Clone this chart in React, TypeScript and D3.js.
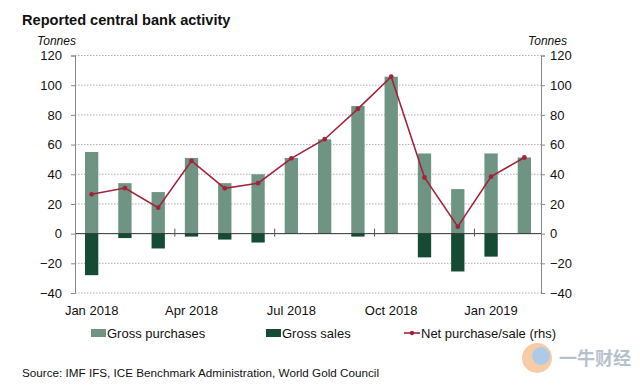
import React, { useEffect, useRef } from 'react';
import * as d3 from 'd3';

// Monthly central bank activity, tonnes
const months = [
  'Jan 2018', 'Feb 2018', 'Mar 2018', 'Apr 2018', 'May 2018', 'Jun 2018', 'Jul 2018',
  'Aug 2018', 'Sep 2018', 'Oct 2018', 'Nov 2018', 'Dec 2018', 'Jan 2019', 'Feb 2019',
];
const grossPurchases = [55, 34, 28, 51, 34, 40, 51, 63.5, 86, 105.7, 54, 30, 54, 51.3];
const grossSales = [-28, -3, -10, -2, -4, -6, 0, 0, -2, 0, -16, -25.5, -15.5, 0];
const netPurchases = [26.5, 30.7, 17.5, 49, 30.5, 34, 50.7, 63.6, 84, 105.7, 37.8, 4.7, 38.4, 51.3];
const xLabels = ['Jan 2018', 'Apr 2018', 'Jul 2018', 'Oct 2018', 'Jan 2019'];
const yTicks = [-40, -20, 0, 20, 40, 60, 80, 100, 120];

const width = 640;
const height = 385;
const plot = { left: 75, right: 541, top: 55.5, bottom: 293 };
const font = 'Liberation Sans, Arial, sans-serif';
const colors = {
  purchases: '#6f9483',
  sales: '#154b35',
  net: '#a3233a',
};

const App: React.FC = () => {
  const gRef = useRef<SVGGElement>(null);

  useEffect(() => {
    const g = d3.select(gRef.current);
    g.selectAll('*').remove();

    const x = d3.scaleBand<string>()
      .domain(months)
      .range([plot.left, plot.right])
      .paddingInner(0.6)
      .paddingOuter(0.3);
    const step = x.step();
    const y = d3.scaleLinear().domain([-40, 120]).range([plot.bottom, plot.top]);

    // Dotted gridlines
    g.append('g')
      .selectAll('line')
      .data(yTicks.filter((t) => t !== 0))
      .join('line')
      .attr('x1', plot.left)
      .attr('x2', plot.right)
      .attr('y1', (d) => y(d))
      .attr('y2', (d) => y(d))
      .attr('stroke', '#9a9a9a')
      .attr('stroke-width', 0.8)
      .attr('stroke-dasharray', '1.5,1.5');

    // Bars
    g.append('g')
      .selectAll('rect')
      .data(months)
      .join('rect')
      .attr('x', (d) => x(d) as number)
      .attr('width', x.bandwidth())
      .attr('y', (_, i) => y(grossPurchases[i]))
      .attr('height', (_, i) => y(0) - y(grossPurchases[i]))
      .attr('fill', colors.purchases);

    g.append('g')
      .selectAll('rect')
      .data(months)
      .join('rect')
      .attr('x', (d) => x(d) as number)
      .attr('width', x.bandwidth())
      .attr('y', y(0))
      .attr('height', (_, i) => y(grossSales[i]) - y(0))
      .attr('fill', colors.sales);

    // Zero line with quarterly tick marks
    g.append('line')
      .attr('x1', plot.left)
      .attr('x2', plot.right)
      .attr('y1', y(0))
      .attr('y2', y(0))
      .attr('stroke', '#333')
      .attr('stroke-width', 1);

    g.append('g')
      .selectAll('line')
      .data(months.filter((_, i) => i > 0 && i % 3 === 0))
      .join('line')
      .attr('x1', (d) => (x(d) as number) - (step - x.bandwidth()) / 2)
      .attr('x2', (d) => (x(d) as number) - (step - x.bandwidth()) / 2)
      .attr('y1', y(0) - 5)
      .attr('y2', y(0) + 3)
      .attr('stroke', '#555')
      .attr('stroke-width', 1);

    // Left and right axes
    const axisL = g.append('g')
      .attr('transform', `translate(${plot.left},0)`)
      .call(d3.axisLeft(y).tickValues(yTicks).tickSize(4).tickPadding(9));
    const axisR = g.append('g')
      .attr('transform', `translate(${plot.right},0)`)
      .call(d3.axisRight(y).tickValues(yTicks).tickSize(4).tickPadding(5));
    [axisL, axisR].forEach((a) => {
      a.select('.domain').attr('stroke', '#888');
      a.selectAll('.tick line').attr('stroke', '#888');
      a.selectAll('.tick text')
        .attr('font-family', font)
        .attr('font-size', 13)
        .attr('fill', '#111');
    });

    // Net purchase/sale line
    const line = d3.line<number>()
      .x((_, i) => (x(months[i]) as number) + x.bandwidth() / 2)
      .y((d) => y(d));
    g.append('path')
      .datum(netPurchases)
      .attr('d', line)
      .attr('fill', 'none')
      .attr('stroke', colors.net)
      .attr('stroke-width', 1.6);
    g.append('g')
      .selectAll('circle')
      .data(netPurchases)
      .join('circle')
      .attr('cx', (_, i) => (x(months[i]) as number) + x.bandwidth() / 2)
      .attr('cy', (d) => y(d))
      .attr('r', 2.4)
      .attr('fill', colors.net);

    // Month labels
    g.append('g')
      .selectAll('text')
      .data(xLabels)
      .join('text')
      .attr('x', (d) => (x(d) as number) + x.bandwidth() / 2)
      .attr('y', 315)
      .attr('text-anchor', 'middle')
      .attr('font-family', font)
      .attr('font-size', 13)
      .attr('fill', '#111')
      .text((d) => d);
  }, []);

  return (
    <svg
      width={width}
      height={height}
      style={{ position: 'absolute', left: 0, top: 0, background: '#fff' }}
    >
      <rect width={width} height={height} fill="#fff" />
      <text x={22} y={25} fontFamily={font} fontSize={14.6} fontWeight="bold" fill="#111">
        Reported central bank activity
      </text>
      <text x={37} y={45} fontFamily={font} fontSize={12} fontStyle="italic" fill="#111">
        Tonnes
      </text>
      <text x={528} y={45} fontFamily={font} fontSize={12} fontStyle="italic" fill="#111">
        Tonnes
      </text>
      <g ref={gRef} />

      {/* Legend */}
      <g fontFamily={font} fontSize={13} fill="#111">
        <rect x={91} y={329} width={15} height={8} fill={colors.purchases} />
        <text x={107} y={338}>Gross purchases</text>
        <rect x={266} y={329} width={15} height={8} fill={colors.sales} />
        <text x={282} y={338}>Gross sales</text>
        <line x1={404} x2={420} y1={333} y2={333} stroke={colors.net} strokeWidth={1.6} />
        <circle cx={412} cy={333} r={2.2} fill={colors.net} />
        <text x={421} y={338}>Net purchase/sale (rhs)</text>
      </g>

      <text x={22} y={377} fontFamily={font} fontSize={11.7} fill="#111">
        Source: IMF IFS, ICE Benchmark Administration, World Gold Council
      </text>

      {/* Watermark */}
      <g opacity={0.55}>
        <circle cx={537} cy={358} r={15} fill="#f0a460" />
        <circle cx={541} cy={356} r={9} fill="#6fa0d8" />
        <text
          x={559}
          y={365}
          fontFamily="Noto Sans CJK SC"
          fontSize={18}
          fontWeight="bold"
          fill="#7d8fa6"
        >
          一牛财经
        </text>
      </g>
    </svg>
  );
};

export default App;
